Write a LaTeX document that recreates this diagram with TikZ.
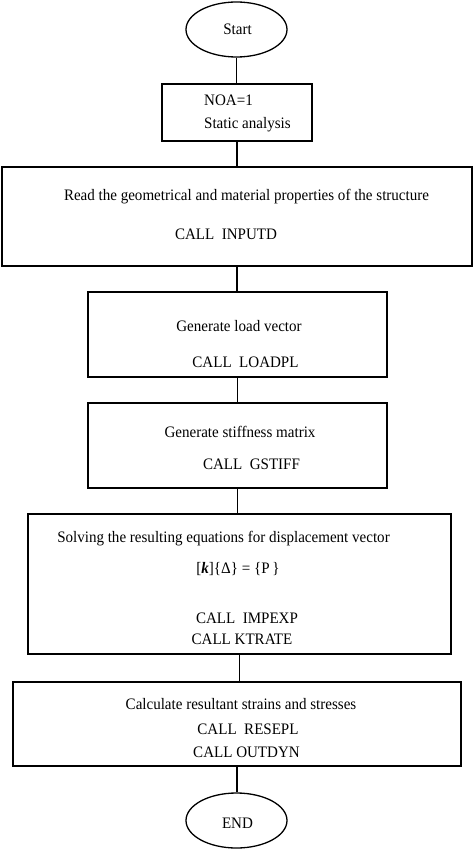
\documentclass[tikz,border=0pt]{standalone}
\usepackage{fontspec}
\setmainfont[FakeStretch=0.94]{Liberation Serif}
\usepackage{tikz}
\usetikzlibrary{shapes}

\tikzset{
    stepbox/.style={draw, line width=1.3pt, inner sep=0pt},
    term/.style={draw, ellipse, line width=1.3pt, inner sep=0pt, minimum width=101pt, minimum height=55pt},
    txt/.style={inner sep=0pt, font=\fontsize{16}{19}\selectfont},
    link/.style={line width=1.3pt}
}

\begin{document}
\begin{tikzpicture}[x=1pt, y=-1pt]
    \useasboundingbox (0,0) rectangle (474,850);

    % Terminals
    \node[term] (start) at (236.5,29.5) {};
    \node[term] (end) at (236.5,820.5) {};

    % Boxes
    \node[stepbox, minimum width=150pt, minimum height=57pt] (noa) at (237,112.5) {};
    \node[stepbox, minimum width=470pt, minimum height=99pt] (read) at (237,216.5) {};
    \node[stepbox, minimum width=299pt, minimum height=85pt] (load) at (237.5,334.5) {};
    \node[stepbox, minimum width=299pt, minimum height=85pt] (stiff) at (237.5,445.5) {};
    \node[stepbox, minimum width=423pt, minimum height=140pt] (solve) at (239.5,584) {};
    \node[stepbox, minimum width=448pt, minimum height=84pt] (calc) at (237,724) {};

    % Texts
    \node[txt, anchor=base] (tstart) at (237.5,35) {Start};
    \node[txt, anchor=base west] (tnoa) at (204,106) {NOA=1};
    \node[txt, anchor=base west] (tstatic) at (204,129) {Static analysis};
    \node[txt, anchor=base] (tread) at (246.5,201) {Read the geometrical and material properties of the structure};
    \node[txt, anchor=base] (tinput) at (226,239) {CALL\ \ INPUTD};
    \node[txt, anchor=base] (tload) at (239,331) {Generate load vector};
    \node[txt, anchor=base] (tloadpl) at (245.5,367) {CALL\ \ LOADPL};
    \node[txt, anchor=base] (tstiff) at (240,437) {Generate stiffness matrix};
    \node[txt, anchor=base] (tgstiff) at (251.5,469) {CALL\ \ GSTIFF};
    \node[txt, anchor=base] (tsolve) at (223.5,542) {Solving the resulting equations for displacement vector};
    \node[txt, anchor=base] (teq) at (238,573) {[\textbf{\textit{k}}]\{Δ\} = \{P\,\}};
    \node[txt, anchor=base] (timpexp) at (247,623) {CALL\ \ IMPEXP};
    \node[txt, anchor=base] (tktrate) at (242,644) {CALL KTRATE};
    \node[txt, anchor=base] (tcalc) at (241,709) {Calculate resultant strains and stresses};
    \node[txt, anchor=base] (tresepl) at (248,734) {CALL\ \ RESEPL};
    \node[txt, anchor=base] (toutdyn) at (246.5,757) {CALL OUTDYN};
    \node[txt, anchor=base] (tend) at (237.5,828) {END};

    % Connectors
    \foreach \a/\b in {start/noa, noa/read, read/load, load/stiff, stiff/solve, solve/calc, calc/end} {
        \draw[link] (\a.south) -- (\a.south |- \b.north);
    }
\end{tikzpicture}
\end{document}
